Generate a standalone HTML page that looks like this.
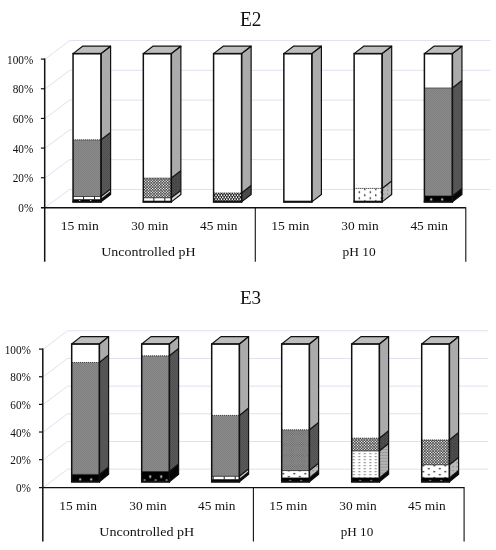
<!DOCTYPE html>
<html lang="en"><head><meta charset="utf-8"><title>E2 / E3</title>
<style>html,body{margin:0;padding:0;background:#fff}svg{display:block}text{font-family:"Liberation Serif", serif;fill:#111}</style></head><body>
<svg width="496" height="550" viewBox="0 0 496 550">

<defs>
  <!-- dense dark-gray fill (front) -->
  <pattern id="pGray" width="2" height="2" patternUnits="userSpaceOnUse">
    <rect width="2" height="2" fill="#8a8a8a"/>
    <rect width="1" height="1" fill="#808080"/>
    <rect x="1" y="1" width="1" height="1" fill="#808080"/>
  </pattern>
  <pattern id="pGrayS" width="2" height="2" patternUnits="userSpaceOnUse">
    <rect width="2" height="2" fill="#595959"/>
    <rect width="1" height="1" fill="#515151"/>
    <rect x="1" y="1" width="1" height="1" fill="#515151"/>
  </pattern>
  <!-- checker / cross-hatch -->
  <pattern id="pHatch" width="11.0" height="11.0" patternUnits="userSpaceOnUse">
    <rect width="11.0" height="11.0" fill="#4a4a4a"/>
    <circle cx="0.000" cy="0.000" r="0.68" fill="#f4f4f4"/>
    <circle cx="0.000" cy="2.750" r="0.68" fill="#f4f4f4"/>
    <circle cx="0.000" cy="5.500" r="0.68" fill="#f4f4f4"/>
    <circle cx="0.000" cy="8.250" r="0.68" fill="#f4f4f4"/>
    <circle cx="0.000" cy="11.000" r="0.68" fill="#f4f4f4"/>
    <circle cx="2.750" cy="0.000" r="0.68" fill="#f4f4f4"/>
    <circle cx="2.750" cy="2.750" r="0.68" fill="#f4f4f4"/>
    <circle cx="2.750" cy="5.500" r="0.68" fill="#f4f4f4"/>
    <circle cx="2.750" cy="8.250" r="0.68" fill="#f4f4f4"/>
    <circle cx="2.750" cy="11.000" r="0.68" fill="#f4f4f4"/>
    <circle cx="5.500" cy="0.000" r="0.68" fill="#f4f4f4"/>
    <circle cx="5.500" cy="2.750" r="0.68" fill="#f4f4f4"/>
    <circle cx="5.500" cy="5.500" r="0.68" fill="#f4f4f4"/>
    <circle cx="5.500" cy="8.250" r="0.68" fill="#f4f4f4"/>
    <circle cx="5.500" cy="11.000" r="0.68" fill="#f4f4f4"/>
    <circle cx="8.250" cy="0.000" r="0.68" fill="#f4f4f4"/>
    <circle cx="8.250" cy="2.750" r="0.68" fill="#f4f4f4"/>
    <circle cx="8.250" cy="5.500" r="0.68" fill="#f4f4f4"/>
    <circle cx="8.250" cy="8.250" r="0.68" fill="#f4f4f4"/>
    <circle cx="8.250" cy="11.000" r="0.68" fill="#f4f4f4"/>
    <circle cx="11.000" cy="0.000" r="0.68" fill="#f4f4f4"/>
    <circle cx="11.000" cy="2.750" r="0.68" fill="#f4f4f4"/>
    <circle cx="11.000" cy="5.500" r="0.68" fill="#f4f4f4"/>
    <circle cx="11.000" cy="8.250" r="0.68" fill="#f4f4f4"/>
    <circle cx="11.000" cy="11.000" r="0.68" fill="#f4f4f4"/>
    <circle cx="1.375" cy="1.375" r="0.68" fill="#f4f4f4"/>
    <circle cx="1.375" cy="4.125" r="0.68" fill="#f4f4f4"/>
    <circle cx="1.375" cy="6.875" r="0.68" fill="#f4f4f4"/>
    <circle cx="1.375" cy="9.625" r="0.68" fill="#f4f4f4"/>
    <circle cx="4.125" cy="1.375" r="0.68" fill="#f4f4f4"/>
    <circle cx="4.125" cy="4.125" r="0.68" fill="#f4f4f4"/>
    <circle cx="4.125" cy="6.875" r="0.68" fill="#f4f4f4"/>
    <circle cx="4.125" cy="9.625" r="0.68" fill="#f4f4f4"/>
    <circle cx="6.875" cy="1.375" r="0.68" fill="#f4f4f4"/>
    <circle cx="6.875" cy="4.125" r="0.68" fill="#f4f4f4"/>
    <circle cx="6.875" cy="6.875" r="0.68" fill="#f4f4f4"/>
    <circle cx="6.875" cy="9.625" r="0.68" fill="#f4f4f4"/>
    <circle cx="9.625" cy="1.375" r="0.68" fill="#f4f4f4"/>
    <circle cx="9.625" cy="4.125" r="0.68" fill="#f4f4f4"/>
    <circle cx="9.625" cy="6.875" r="0.68" fill="#f4f4f4"/>
    <circle cx="9.625" cy="9.625" r="0.68" fill="#f4f4f4"/>
  </pattern>
  <pattern id="pHatchS" width="11.0" height="11.0" patternUnits="userSpaceOnUse">
    <rect width="11.0" height="11.0" fill="#404040"/>
    <circle cx="0.000" cy="0.000" r="0.6" fill="#606060"/>
    <circle cx="0.000" cy="2.750" r="0.6" fill="#606060"/>
    <circle cx="0.000" cy="5.500" r="0.6" fill="#606060"/>
    <circle cx="0.000" cy="8.250" r="0.6" fill="#606060"/>
    <circle cx="0.000" cy="11.000" r="0.6" fill="#606060"/>
    <circle cx="2.750" cy="0.000" r="0.6" fill="#606060"/>
    <circle cx="2.750" cy="2.750" r="0.6" fill="#606060"/>
    <circle cx="2.750" cy="5.500" r="0.6" fill="#606060"/>
    <circle cx="2.750" cy="8.250" r="0.6" fill="#606060"/>
    <circle cx="2.750" cy="11.000" r="0.6" fill="#606060"/>
    <circle cx="5.500" cy="0.000" r="0.6" fill="#606060"/>
    <circle cx="5.500" cy="2.750" r="0.6" fill="#606060"/>
    <circle cx="5.500" cy="5.500" r="0.6" fill="#606060"/>
    <circle cx="5.500" cy="8.250" r="0.6" fill="#606060"/>
    <circle cx="5.500" cy="11.000" r="0.6" fill="#606060"/>
    <circle cx="8.250" cy="0.000" r="0.6" fill="#606060"/>
    <circle cx="8.250" cy="2.750" r="0.6" fill="#606060"/>
    <circle cx="8.250" cy="5.500" r="0.6" fill="#606060"/>
    <circle cx="8.250" cy="8.250" r="0.6" fill="#606060"/>
    <circle cx="8.250" cy="11.000" r="0.6" fill="#606060"/>
    <circle cx="11.000" cy="0.000" r="0.6" fill="#606060"/>
    <circle cx="11.000" cy="2.750" r="0.6" fill="#606060"/>
    <circle cx="11.000" cy="5.500" r="0.6" fill="#606060"/>
    <circle cx="11.000" cy="8.250" r="0.6" fill="#606060"/>
    <circle cx="11.000" cy="11.000" r="0.6" fill="#606060"/>
    <circle cx="1.375" cy="1.375" r="0.6" fill="#606060"/>
    <circle cx="1.375" cy="4.125" r="0.6" fill="#606060"/>
    <circle cx="1.375" cy="6.875" r="0.6" fill="#606060"/>
    <circle cx="1.375" cy="9.625" r="0.6" fill="#606060"/>
    <circle cx="4.125" cy="1.375" r="0.6" fill="#606060"/>
    <circle cx="4.125" cy="4.125" r="0.6" fill="#606060"/>
    <circle cx="4.125" cy="6.875" r="0.6" fill="#606060"/>
    <circle cx="4.125" cy="9.625" r="0.6" fill="#606060"/>
    <circle cx="6.875" cy="1.375" r="0.6" fill="#606060"/>
    <circle cx="6.875" cy="4.125" r="0.6" fill="#606060"/>
    <circle cx="6.875" cy="6.875" r="0.6" fill="#606060"/>
    <circle cx="6.875" cy="9.625" r="0.6" fill="#606060"/>
    <circle cx="9.625" cy="1.375" r="0.6" fill="#606060"/>
    <circle cx="9.625" cy="4.125" r="0.6" fill="#606060"/>
    <circle cx="9.625" cy="6.875" r="0.6" fill="#606060"/>
    <circle cx="9.625" cy="9.625" r="0.6" fill="#606060"/>
  </pattern>
  <!-- textured gray -->
  <pattern id="pGray2" width="11.000" height="11.000" patternUnits="userSpaceOnUse">
    <rect width="11.000" height="11.000" fill="#929292"/>
    <circle cx="0.000" cy="0.000" r="0.55" fill="#626262"/>
    <circle cx="0.000" cy="2.200" r="0.55" fill="#626262"/>
    <circle cx="0.000" cy="4.400" r="0.55" fill="#626262"/>
    <circle cx="0.000" cy="6.600" r="0.55" fill="#626262"/>
    <circle cx="0.000" cy="8.800" r="0.55" fill="#626262"/>
    <circle cx="0.000" cy="11.000" r="0.55" fill="#626262"/>
    <circle cx="2.200" cy="0.000" r="0.55" fill="#626262"/>
    <circle cx="2.200" cy="2.200" r="0.55" fill="#626262"/>
    <circle cx="2.200" cy="4.400" r="0.55" fill="#626262"/>
    <circle cx="2.200" cy="6.600" r="0.55" fill="#626262"/>
    <circle cx="2.200" cy="8.800" r="0.55" fill="#626262"/>
    <circle cx="2.200" cy="11.000" r="0.55" fill="#626262"/>
    <circle cx="4.400" cy="0.000" r="0.55" fill="#626262"/>
    <circle cx="4.400" cy="2.200" r="0.55" fill="#626262"/>
    <circle cx="4.400" cy="4.400" r="0.55" fill="#626262"/>
    <circle cx="4.400" cy="6.600" r="0.55" fill="#626262"/>
    <circle cx="4.400" cy="8.800" r="0.55" fill="#626262"/>
    <circle cx="4.400" cy="11.000" r="0.55" fill="#626262"/>
    <circle cx="6.600" cy="0.000" r="0.55" fill="#626262"/>
    <circle cx="6.600" cy="2.200" r="0.55" fill="#626262"/>
    <circle cx="6.600" cy="4.400" r="0.55" fill="#626262"/>
    <circle cx="6.600" cy="6.600" r="0.55" fill="#626262"/>
    <circle cx="6.600" cy="8.800" r="0.55" fill="#626262"/>
    <circle cx="6.600" cy="11.000" r="0.55" fill="#626262"/>
    <circle cx="8.800" cy="0.000" r="0.55" fill="#626262"/>
    <circle cx="8.800" cy="2.200" r="0.55" fill="#626262"/>
    <circle cx="8.800" cy="4.400" r="0.55" fill="#626262"/>
    <circle cx="8.800" cy="6.600" r="0.55" fill="#626262"/>
    <circle cx="8.800" cy="8.800" r="0.55" fill="#626262"/>
    <circle cx="8.800" cy="11.000" r="0.55" fill="#626262"/>
    <circle cx="11.000" cy="0.000" r="0.55" fill="#626262"/>
    <circle cx="11.000" cy="2.200" r="0.55" fill="#626262"/>
    <circle cx="11.000" cy="4.400" r="0.55" fill="#626262"/>
    <circle cx="11.000" cy="6.600" r="0.55" fill="#626262"/>
    <circle cx="11.000" cy="8.800" r="0.55" fill="#626262"/>
    <circle cx="11.000" cy="11.000" r="0.55" fill="#626262"/>
    <circle cx="1.100" cy="1.100" r="0.55" fill="#626262"/>
    <circle cx="1.100" cy="3.300" r="0.55" fill="#626262"/>
    <circle cx="1.100" cy="5.500" r="0.55" fill="#626262"/>
    <circle cx="1.100" cy="7.700" r="0.55" fill="#626262"/>
    <circle cx="1.100" cy="9.900" r="0.55" fill="#626262"/>
    <circle cx="3.300" cy="1.100" r="0.55" fill="#626262"/>
    <circle cx="3.300" cy="3.300" r="0.55" fill="#626262"/>
    <circle cx="3.300" cy="5.500" r="0.55" fill="#626262"/>
    <circle cx="3.300" cy="7.700" r="0.55" fill="#626262"/>
    <circle cx="3.300" cy="9.900" r="0.55" fill="#626262"/>
    <circle cx="5.500" cy="1.100" r="0.55" fill="#626262"/>
    <circle cx="5.500" cy="3.300" r="0.55" fill="#626262"/>
    <circle cx="5.500" cy="5.500" r="0.55" fill="#626262"/>
    <circle cx="5.500" cy="7.700" r="0.55" fill="#626262"/>
    <circle cx="5.500" cy="9.900" r="0.55" fill="#626262"/>
    <circle cx="7.700" cy="1.100" r="0.55" fill="#626262"/>
    <circle cx="7.700" cy="3.300" r="0.55" fill="#626262"/>
    <circle cx="7.700" cy="5.500" r="0.55" fill="#626262"/>
    <circle cx="7.700" cy="7.700" r="0.55" fill="#626262"/>
    <circle cx="7.700" cy="9.900" r="0.55" fill="#626262"/>
    <circle cx="9.900" cy="1.100" r="0.55" fill="#626262"/>
    <circle cx="9.900" cy="3.300" r="0.55" fill="#626262"/>
    <circle cx="9.900" cy="5.500" r="0.55" fill="#626262"/>
    <circle cx="9.900" cy="7.700" r="0.55" fill="#626262"/>
    <circle cx="9.900" cy="9.900" r="0.55" fill="#626262"/>
  </pattern>
  <!-- larger diamond lattice -->
  <pattern id="pHatch2" width="10.800" height="8.200" patternUnits="userSpaceOnUse">
    <rect width="10.800" height="8.200" fill="#0c0c0c"/>
    <ellipse cx="0.000" cy="0.000" rx="0.86" ry="1.2" fill="#ffffff"/>
    <ellipse cx="0.000" cy="4.100" rx="0.86" ry="1.2" fill="#ffffff"/>
    <ellipse cx="0.000" cy="8.200" rx="0.86" ry="1.2" fill="#ffffff"/>
    <ellipse cx="2.700" cy="0.000" rx="0.86" ry="1.2" fill="#ffffff"/>
    <ellipse cx="2.700" cy="4.100" rx="0.86" ry="1.2" fill="#ffffff"/>
    <ellipse cx="2.700" cy="8.200" rx="0.86" ry="1.2" fill="#ffffff"/>
    <ellipse cx="5.400" cy="0.000" rx="0.86" ry="1.2" fill="#ffffff"/>
    <ellipse cx="5.400" cy="4.100" rx="0.86" ry="1.2" fill="#ffffff"/>
    <ellipse cx="5.400" cy="8.200" rx="0.86" ry="1.2" fill="#ffffff"/>
    <ellipse cx="8.100" cy="0.000" rx="0.86" ry="1.2" fill="#ffffff"/>
    <ellipse cx="8.100" cy="4.100" rx="0.86" ry="1.2" fill="#ffffff"/>
    <ellipse cx="8.100" cy="8.200" rx="0.86" ry="1.2" fill="#ffffff"/>
    <ellipse cx="10.800" cy="0.000" rx="0.86" ry="1.2" fill="#ffffff"/>
    <ellipse cx="10.800" cy="4.100" rx="0.86" ry="1.2" fill="#ffffff"/>
    <ellipse cx="10.800" cy="8.200" rx="0.86" ry="1.2" fill="#ffffff"/>
    <ellipse cx="1.350" cy="2.050" rx="0.86" ry="1.2" fill="#ffffff"/>
    <ellipse cx="1.350" cy="6.150" rx="0.86" ry="1.2" fill="#ffffff"/>
    <ellipse cx="4.050" cy="2.050" rx="0.86" ry="1.2" fill="#ffffff"/>
    <ellipse cx="4.050" cy="6.150" rx="0.86" ry="1.2" fill="#ffffff"/>
    <ellipse cx="6.750" cy="2.050" rx="0.86" ry="1.2" fill="#ffffff"/>
    <ellipse cx="6.750" cy="6.150" rx="0.86" ry="1.2" fill="#ffffff"/>
    <ellipse cx="9.450" cy="2.050" rx="0.86" ry="1.2" fill="#ffffff"/>
    <ellipse cx="9.450" cy="6.150" rx="0.86" ry="1.2" fill="#ffffff"/>
  </pattern>
  <!-- sparse dark dots on white : tile 11 x 6, anchored at (xl, segtop) -->
  <pattern id="pDot" width="11" height="6" patternUnits="userSpaceOnUse">
    <rect width="11" height="6" fill="#fff"/>
    <rect x="4.6" y="2.9" width="1.5" height="1.5" fill="#1c1c1c"/>
    <rect x="10.0" y="-0.1" width="1.5" height="1.5" fill="#1c1c1c"/>
    <rect x="-1.0" y="-0.1" width="1.5" height="1.5" fill="#1c1c1c"/>
    <rect x="10.0" y="5.9" width="1.5" height="1.5" fill="#1c1c1c"/>
    <rect x="-1.0" y="5.9" width="1.5" height="1.5" fill="#1c1c1c"/>
  </pattern>
  <pattern id="pDotS" width="4" height="4" patternUnits="userSpaceOnUse">
    <rect width="4" height="4" fill="#b9b9b9"/>
    <rect x="1" y="1" width="1.2" height="1.2" fill="#7a7a7a"/>
  </pattern>
  <!-- small light dashes on white -->
  <pattern id="pDash" width="11" height="3" patternUnits="userSpaceOnUse">
    <rect width="11" height="3" fill="#fff"/>
    <rect x="1.4" y="2.2" width="1.8" height="1.0" fill="#6a6a6a"/>
    <rect x="1.4" y="-0.8" width="1.8" height="1.0" fill="#6a6a6a"/>
    <rect x="6.9" y="2.2" width="1.8" height="1.0" fill="#6a6a6a"/>
    <rect x="6.9" y="-0.8" width="1.8" height="1.0" fill="#6a6a6a"/>
  </pattern>
  <pattern id="pDashS" width="3" height="2.95" patternUnits="userSpaceOnUse">
    <rect width="3" height="2.95" fill="#b4b4b4"/>
    <rect x="0.5" y="1" width="2" height="0.9" fill="#8a8a8a"/>
  </pattern>
  <!-- black with white dots : two rows only -->
  <pattern id="pBlk" width="11" height="30" patternUnits="userSpaceOnUse">
    <rect width="11" height="30" fill="#000"/>
    <rect x="5.9" y="3.9" width="1.5" height="2.5" fill="#fff"/>
    <rect x="0.4" y="7.9" width="1.5" height="2.0" fill="#fff"/>
  </pattern>
  <pattern id="pBlkS" width="3.2" height="30" patternUnits="userSpaceOnUse" patternTransform="skewY(-38.7)">
    <rect width="3.2" height="30" fill="#060606"/>
    <rect x="1.4" y="3.7" width="1.0" height="1.6" fill="#8c8c8c"/>
  </pattern>
  <!-- white with black ticks every 11 px -->
  <pattern id="pWDash" width="11" height="20" patternUnits="userSpaceOnUse">
    <rect width="11" height="20" fill="#fff"/>
    <rect x="10.0" y="-1" width="1.6" height="22" fill="#222"/>
  </pattern>
</defs>

<rect width="496" height="550" fill="#fff"/>
<polyline points="45.30,59.10 69.50,40.55 490.40,40.55" fill="none" stroke="#dde2ef" stroke-width="1"/>
<polyline points="45.30,88.76 69.50,70.33 490.40,70.33" fill="none" stroke="#dde2ef" stroke-width="1"/>
<polyline points="45.30,118.42 69.50,100.11 490.40,100.11" fill="none" stroke="#dde2ef" stroke-width="1"/>
<polyline points="45.30,148.08 69.50,129.89 490.40,129.89" fill="none" stroke="#dde2ef" stroke-width="1"/>
<polyline points="45.30,177.74 69.50,159.67 490.40,159.67" fill="none" stroke="#dde2ef" stroke-width="1"/>
<polyline points="45.30,207.40 69.50,189.45 490.40,189.45" fill="none" stroke="#dde2ef" stroke-width="1"/>
<g transform="translate(73.00,196.00)">
<rect x="0.05" y="3.50" width="28.00" height="2.40" fill="url(#pBlk)"/>
<polygon points="28.05,3.50 37.60,-3.90 37.60,-1.50 28.05,5.90" fill="url(#pBlkS)"/>
</g>
<g transform="translate(73.05,196.50)">
<rect x="0.00" y="0.00" width="28.00" height="3.00" fill="url(#pWDash)"/>
<polygon points="28.00,0.00 37.55,-7.40 37.55,-4.40 28.00,3.00" fill="#d8d8d8"/>
</g>
<g transform="translate(0.00,0.00)">
<rect x="73.05" y="139.80" width="28.00" height="56.70" fill="url(#pGray)"/>
<polygon points="101.05,139.80 110.60,132.40 110.60,189.10 101.05,196.50" fill="url(#pGrayS)"/>
</g>
<g transform="translate(0.00,0.00)">
<rect x="73.05" y="53.60" width="28.00" height="86.20" fill="#ffffff"/>
<polygon points="101.05,53.60 110.60,46.20 110.60,132.40 101.05,139.80" fill="#ababab"/>
</g>
<line x1="73.05" y1="199.50" x2="101.05" y2="199.50" stroke="#111" stroke-width="0.7"/>
<line x1="101.05" y1="199.50" x2="110.60" y2="192.10" stroke="#111" stroke-width="1.25"/>
<line x1="73.05" y1="196.50" x2="101.05" y2="196.50" stroke="#111" stroke-width="0.7"/>
<line x1="101.05" y1="196.50" x2="110.60" y2="189.10" stroke="#111" stroke-width="1.25"/>
<line x1="73.05" y1="139.80" x2="101.05" y2="139.80" stroke="#111" stroke-width="0.8" stroke-dasharray="1.3 0.7"/>
<line x1="101.05" y1="139.80" x2="110.60" y2="132.40" stroke="#111" stroke-width="1.25"/>
<polygon points="73.05,53.60 82.60,46.20 110.60,46.20 101.05,53.60" fill="#bdbdbd" stroke="#111" stroke-width="1.2" stroke-linejoin="round"/>
<rect x="73.05" y="53.60" width="28.00" height="148.30" fill="none" stroke="#111" stroke-width="1.5"/>
<line x1="72.40" y1="201.65" x2="101.70" y2="201.65" stroke="#111" stroke-width="1.9"/>
<polygon points="101.05,53.60 110.60,46.20 110.60,194.50 101.05,201.90" fill="none" stroke="#111" stroke-width="1.2" stroke-linejoin="round"/>
<g transform="translate(143.32,197.80)">
<rect x="0.00" y="0.00" width="28.00" height="4.10" fill="url(#pWDash)"/>
<polygon points="28.00,0.00 37.55,-7.40 37.55,-3.30 28.00,4.10" fill="#d8d8d8"/>
</g>
<g transform="translate(0.00,0.00)">
<rect x="143.32" y="178.10" width="28.00" height="19.70" fill="url(#pHatch)"/>
<polygon points="171.32,178.10 180.87,170.70 180.87,190.40 171.32,197.80" fill="url(#pHatchS)"/>
</g>
<g transform="translate(0.00,0.00)">
<rect x="143.32" y="53.60" width="28.00" height="124.50" fill="#ffffff"/>
<polygon points="171.32,53.60 180.87,46.20 180.87,170.70 171.32,178.10" fill="#ababab"/>
</g>
<line x1="143.32" y1="197.80" x2="171.32" y2="197.80" stroke="#111" stroke-width="0.7"/>
<line x1="171.32" y1="197.80" x2="180.87" y2="190.40" stroke="#111" stroke-width="1.25"/>
<line x1="143.32" y1="178.10" x2="171.32" y2="178.10" stroke="#111" stroke-width="0.8" stroke-dasharray="1.3 0.7"/>
<line x1="171.32" y1="178.10" x2="180.87" y2="170.70" stroke="#111" stroke-width="1.25"/>
<polygon points="143.32,53.60 152.87,46.20 180.87,46.20 171.32,53.60" fill="#bdbdbd" stroke="#111" stroke-width="1.2" stroke-linejoin="round"/>
<rect x="143.32" y="53.60" width="28.00" height="148.30" fill="none" stroke="#111" stroke-width="1.5"/>
<line x1="142.67" y1="201.65" x2="171.97" y2="201.65" stroke="#111" stroke-width="1.9"/>
<polygon points="171.32,53.60 180.87,46.20 180.87,194.50 171.32,201.90" fill="none" stroke="#111" stroke-width="1.2" stroke-linejoin="round"/>
<g transform="translate(214.69,193.20)">
<clipPath id="c1"><rect x="-1.10" y="-0.20" width="28.00" height="8.90"/></clipPath>
<rect x="-1.10" y="-0.20" width="28.00" height="8.90" fill="#161616"/>
<g clip-path="url(#c1)" fill="#fff">
<ellipse cx="-1.35" cy="-2.05" rx="0.76" ry="1.1"/>
<ellipse cx="1.35" cy="-2.05" rx="0.76" ry="1.1"/>
<ellipse cx="4.05" cy="-2.05" rx="0.76" ry="1.1"/>
<ellipse cx="6.75" cy="-2.05" rx="0.76" ry="1.1"/>
<ellipse cx="9.45" cy="-2.05" rx="0.76" ry="1.1"/>
<ellipse cx="12.15" cy="-2.05" rx="0.76" ry="1.1"/>
<ellipse cx="14.85" cy="-2.05" rx="0.76" ry="1.1"/>
<ellipse cx="17.55" cy="-2.05" rx="0.76" ry="1.1"/>
<ellipse cx="20.25" cy="-2.05" rx="0.76" ry="1.1"/>
<ellipse cx="22.95" cy="-2.05" rx="0.76" ry="1.1"/>
<ellipse cx="25.65" cy="-2.05" rx="0.76" ry="1.1"/>
<ellipse cx="28.35" cy="-2.05" rx="0.76" ry="1.1"/>
<ellipse cx="31.05" cy="-2.05" rx="0.76" ry="1.1"/>
<ellipse cx="-2.70" cy="0.00" rx="0.76" ry="1.1"/>
<ellipse cx="0.00" cy="0.00" rx="0.76" ry="1.1"/>
<ellipse cx="2.70" cy="0.00" rx="0.76" ry="1.1"/>
<ellipse cx="5.40" cy="0.00" rx="0.76" ry="1.1"/>
<ellipse cx="8.10" cy="0.00" rx="0.76" ry="1.1"/>
<ellipse cx="10.80" cy="0.00" rx="0.76" ry="1.1"/>
<ellipse cx="13.50" cy="0.00" rx="0.76" ry="1.1"/>
<ellipse cx="16.20" cy="0.00" rx="0.76" ry="1.1"/>
<ellipse cx="18.90" cy="0.00" rx="0.76" ry="1.1"/>
<ellipse cx="21.60" cy="0.00" rx="0.76" ry="1.1"/>
<ellipse cx="24.30" cy="0.00" rx="0.76" ry="1.1"/>
<ellipse cx="27.00" cy="0.00" rx="0.76" ry="1.1"/>
<ellipse cx="29.70" cy="0.00" rx="0.76" ry="1.1"/>
<ellipse cx="-1.35" cy="2.05" rx="0.76" ry="1.1"/>
<ellipse cx="1.35" cy="2.05" rx="0.76" ry="1.1"/>
<ellipse cx="4.05" cy="2.05" rx="0.76" ry="1.1"/>
<ellipse cx="6.75" cy="2.05" rx="0.76" ry="1.1"/>
<ellipse cx="9.45" cy="2.05" rx="0.76" ry="1.1"/>
<ellipse cx="12.15" cy="2.05" rx="0.76" ry="1.1"/>
<ellipse cx="14.85" cy="2.05" rx="0.76" ry="1.1"/>
<ellipse cx="17.55" cy="2.05" rx="0.76" ry="1.1"/>
<ellipse cx="20.25" cy="2.05" rx="0.76" ry="1.1"/>
<ellipse cx="22.95" cy="2.05" rx="0.76" ry="1.1"/>
<ellipse cx="25.65" cy="2.05" rx="0.76" ry="1.1"/>
<ellipse cx="28.35" cy="2.05" rx="0.76" ry="1.1"/>
<ellipse cx="31.05" cy="2.05" rx="0.76" ry="1.1"/>
<ellipse cx="-2.70" cy="4.10" rx="0.76" ry="1.1"/>
<ellipse cx="0.00" cy="4.10" rx="0.76" ry="1.1"/>
<ellipse cx="2.70" cy="4.10" rx="0.76" ry="1.1"/>
<ellipse cx="5.40" cy="4.10" rx="0.76" ry="1.1"/>
<ellipse cx="8.10" cy="4.10" rx="0.76" ry="1.1"/>
<ellipse cx="10.80" cy="4.10" rx="0.76" ry="1.1"/>
<ellipse cx="13.50" cy="4.10" rx="0.76" ry="1.1"/>
<ellipse cx="16.20" cy="4.10" rx="0.76" ry="1.1"/>
<ellipse cx="18.90" cy="4.10" rx="0.76" ry="1.1"/>
<ellipse cx="21.60" cy="4.10" rx="0.76" ry="1.1"/>
<ellipse cx="24.30" cy="4.10" rx="0.76" ry="1.1"/>
<ellipse cx="27.00" cy="4.10" rx="0.76" ry="1.1"/>
<ellipse cx="29.70" cy="4.10" rx="0.76" ry="1.1"/>
<ellipse cx="-1.35" cy="6.15" rx="0.76" ry="1.1"/>
<ellipse cx="1.35" cy="6.15" rx="0.76" ry="1.1"/>
<ellipse cx="4.05" cy="6.15" rx="0.76" ry="1.1"/>
<ellipse cx="6.75" cy="6.15" rx="0.76" ry="1.1"/>
<ellipse cx="9.45" cy="6.15" rx="0.76" ry="1.1"/>
<ellipse cx="12.15" cy="6.15" rx="0.76" ry="1.1"/>
<ellipse cx="14.85" cy="6.15" rx="0.76" ry="1.1"/>
<ellipse cx="17.55" cy="6.15" rx="0.76" ry="1.1"/>
<ellipse cx="20.25" cy="6.15" rx="0.76" ry="1.1"/>
<ellipse cx="22.95" cy="6.15" rx="0.76" ry="1.1"/>
<ellipse cx="25.65" cy="6.15" rx="0.76" ry="1.1"/>
<ellipse cx="28.35" cy="6.15" rx="0.76" ry="1.1"/>
<ellipse cx="31.05" cy="6.15" rx="0.76" ry="1.1"/>
<ellipse cx="-2.70" cy="8.20" rx="0.76" ry="1.1"/>
<ellipse cx="0.00" cy="8.20" rx="0.76" ry="1.1"/>
<ellipse cx="2.70" cy="8.20" rx="0.76" ry="1.1"/>
<ellipse cx="5.40" cy="8.20" rx="0.76" ry="1.1"/>
<ellipse cx="8.10" cy="8.20" rx="0.76" ry="1.1"/>
<ellipse cx="10.80" cy="8.20" rx="0.76" ry="1.1"/>
<ellipse cx="13.50" cy="8.20" rx="0.76" ry="1.1"/>
<ellipse cx="16.20" cy="8.20" rx="0.76" ry="1.1"/>
<ellipse cx="18.90" cy="8.20" rx="0.76" ry="1.1"/>
<ellipse cx="21.60" cy="8.20" rx="0.76" ry="1.1"/>
<ellipse cx="24.30" cy="8.20" rx="0.76" ry="1.1"/>
<ellipse cx="27.00" cy="8.20" rx="0.76" ry="1.1"/>
<ellipse cx="29.70" cy="8.20" rx="0.76" ry="1.1"/>
<ellipse cx="-1.35" cy="10.25" rx="0.76" ry="1.1"/>
<ellipse cx="1.35" cy="10.25" rx="0.76" ry="1.1"/>
<ellipse cx="4.05" cy="10.25" rx="0.76" ry="1.1"/>
<ellipse cx="6.75" cy="10.25" rx="0.76" ry="1.1"/>
<ellipse cx="9.45" cy="10.25" rx="0.76" ry="1.1"/>
<ellipse cx="12.15" cy="10.25" rx="0.76" ry="1.1"/>
<ellipse cx="14.85" cy="10.25" rx="0.76" ry="1.1"/>
<ellipse cx="17.55" cy="10.25" rx="0.76" ry="1.1"/>
<ellipse cx="20.25" cy="10.25" rx="0.76" ry="1.1"/>
<ellipse cx="22.95" cy="10.25" rx="0.76" ry="1.1"/>
<ellipse cx="25.65" cy="10.25" rx="0.76" ry="1.1"/>
<ellipse cx="28.35" cy="10.25" rx="0.76" ry="1.1"/>
<ellipse cx="31.05" cy="10.25" rx="0.76" ry="1.1"/>
</g>
<polygon points="26.90,-0.20 36.45,-7.60 36.45,1.30 26.90,8.70" fill="url(#pHatchS)"/>
</g>
<g transform="translate(0.00,0.00)">
<rect x="213.59" y="53.60" width="28.00" height="139.40" fill="#ffffff"/>
<polygon points="241.59,53.60 251.14,46.20 251.14,185.60 241.59,193.00" fill="#ababab"/>
</g>
<line x1="213.59" y1="193.00" x2="241.59" y2="193.00" stroke="#111" stroke-width="0.8" stroke-dasharray="1.3 0.7"/>
<line x1="241.59" y1="193.00" x2="251.14" y2="185.60" stroke="#111" stroke-width="1.25"/>
<polygon points="213.59,53.60 223.14,46.20 251.14,46.20 241.59,53.60" fill="#bdbdbd" stroke="#111" stroke-width="1.2" stroke-linejoin="round"/>
<rect x="213.59" y="53.60" width="28.00" height="148.30" fill="none" stroke="#111" stroke-width="1.5"/>
<line x1="212.94" y1="201.65" x2="242.24" y2="201.65" stroke="#111" stroke-width="1.9"/>
<polygon points="241.59,53.60 251.14,46.20 251.14,194.50 241.59,201.90" fill="none" stroke="#111" stroke-width="1.2" stroke-linejoin="round"/>
<g transform="translate(0.00,0.00)">
<rect x="283.86" y="53.60" width="28.00" height="148.30" fill="#ffffff"/>
<polygon points="311.86,53.60 321.41,46.20 321.41,194.50 311.86,201.90" fill="#ababab"/>
</g>
<polygon points="283.86,53.60 293.41,46.20 321.41,46.20 311.86,53.60" fill="#bdbdbd" stroke="#111" stroke-width="1.2" stroke-linejoin="round"/>
<rect x="283.86" y="53.60" width="28.00" height="148.30" fill="none" stroke="#111" stroke-width="1.5"/>
<line x1="283.21" y1="201.65" x2="312.51" y2="201.65" stroke="#111" stroke-width="1.9"/>
<polygon points="311.86,53.60 321.41,46.20 321.41,194.50 311.86,201.90" fill="none" stroke="#111" stroke-width="1.2" stroke-linejoin="round"/>
<g transform="translate(354.00,188.50)">
<rect x="0.13" y="-0.10" width="28.00" height="13.50" fill="url(#pDot)"/>
<polygon points="28.13,-0.10 37.68,-7.50 37.68,6.00 28.13,13.40" fill="url(#pDotS)"/>
</g>
<g transform="translate(0.00,0.00)">
<rect x="354.13" y="53.60" width="28.00" height="134.80" fill="#ffffff"/>
<polygon points="382.13,53.60 391.68,46.20 391.68,181.00 382.13,188.40" fill="#ababab"/>
</g>
<line x1="354.13" y1="188.40" x2="382.13" y2="188.40" stroke="#111" stroke-width="0.8" stroke-dasharray="1.3 0.7"/>
<line x1="382.13" y1="188.40" x2="391.68" y2="181.00" stroke="#111" stroke-width="1.25"/>
<polygon points="354.13,53.60 363.68,46.20 391.68,46.20 382.13,53.60" fill="#bdbdbd" stroke="#111" stroke-width="1.2" stroke-linejoin="round"/>
<rect x="354.13" y="53.60" width="28.00" height="148.30" fill="none" stroke="#111" stroke-width="1.5"/>
<line x1="353.48" y1="201.65" x2="382.78" y2="201.65" stroke="#111" stroke-width="1.9"/>
<polygon points="382.13,53.60 391.68,46.20 391.68,194.50 382.13,201.90" fill="none" stroke="#111" stroke-width="1.2" stroke-linejoin="round"/>
<g transform="translate(424.50,194.50)">
<rect x="-0.10" y="1.50" width="28.00" height="5.90" fill="url(#pBlk)"/>
<polygon points="27.90,1.50 37.45,-5.90 37.45,0.00 27.90,7.40" fill="url(#pBlkS)"/>
</g>
<g transform="translate(0.00,0.00)">
<rect x="424.40" y="87.90" width="28.00" height="108.10" fill="url(#pGray)"/>
<polygon points="452.40,87.90 461.95,80.50 461.95,188.60 452.40,196.00" fill="url(#pGrayS)"/>
</g>
<g transform="translate(0.00,0.00)">
<rect x="424.40" y="53.60" width="28.00" height="34.30" fill="#ffffff"/>
<polygon points="452.40,53.60 461.95,46.20 461.95,80.50 452.40,87.90" fill="#ababab"/>
</g>
<line x1="424.40" y1="196.00" x2="452.40" y2="196.00" stroke="#111" stroke-width="0.7"/>
<line x1="452.40" y1="196.00" x2="461.95" y2="188.60" stroke="#111" stroke-width="1.25"/>
<line x1="424.40" y1="87.90" x2="452.40" y2="87.90" stroke="#111" stroke-width="0.8" stroke-dasharray="1.3 0.7"/>
<line x1="452.40" y1="87.90" x2="461.95" y2="80.50" stroke="#111" stroke-width="1.25"/>
<polygon points="424.40,53.60 433.95,46.20 461.95,46.20 452.40,53.60" fill="#bdbdbd" stroke="#111" stroke-width="1.2" stroke-linejoin="round"/>
<rect x="424.40" y="53.60" width="28.00" height="148.30" fill="none" stroke="#111" stroke-width="1.5"/>
<line x1="423.75" y1="201.65" x2="453.05" y2="201.65" stroke="#111" stroke-width="1.9"/>
<polygon points="452.40,53.60 461.95,46.20 461.95,194.50 452.40,201.90" fill="none" stroke="#111" stroke-width="1.2" stroke-linejoin="round"/>
<line x1="44.70" y1="58.50" x2="44.70" y2="261.70" stroke="#111" stroke-width="1.5"/>
<line x1="40.90" y1="59.10" x2="44.70" y2="59.10" stroke="#111" stroke-width="1.2"/>
<line x1="40.90" y1="88.76" x2="44.70" y2="88.76" stroke="#111" stroke-width="1.2"/>
<line x1="40.90" y1="118.42" x2="44.70" y2="118.42" stroke="#111" stroke-width="1.2"/>
<line x1="40.90" y1="148.08" x2="44.70" y2="148.08" stroke="#111" stroke-width="1.2"/>
<line x1="40.90" y1="177.74" x2="44.70" y2="177.74" stroke="#111" stroke-width="1.2"/>
<line x1="40.90" y1="207.75" x2="465.80" y2="207.75" stroke="#111" stroke-width="1.3"/>
<line x1="255.30" y1="207.75" x2="255.30" y2="261.70" stroke="#111" stroke-width="1.1"/>
<line x1="465.80" y1="207.15" x2="465.80" y2="261.70" stroke="#111" stroke-width="1.1"/>
<text x="7.04" y="63.70" font-size="11.7" textLength="26.26" lengthAdjust="spacingAndGlyphs">100%</text>
<text x="12.67" y="93.36" font-size="11.7" textLength="20.63" lengthAdjust="spacingAndGlyphs">80%</text>
<text x="12.67" y="123.02" font-size="11.7" textLength="20.63" lengthAdjust="spacingAndGlyphs">60%</text>
<text x="12.67" y="152.68" font-size="11.7" textLength="20.63" lengthAdjust="spacingAndGlyphs">40%</text>
<text x="12.67" y="182.34" font-size="11.7" textLength="20.63" lengthAdjust="spacingAndGlyphs">20%</text>
<text x="18.30" y="212.00" font-size="11.7" textLength="15.00" lengthAdjust="spacingAndGlyphs">0%</text>
<text x="60.70" y="229.60" font-size="13.2" textLength="38.20" lengthAdjust="spacingAndGlyphs">15 min</text>
<text x="131.25" y="229.60" font-size="13.2" textLength="37.00" lengthAdjust="spacingAndGlyphs">30 min</text>
<text x="200.00" y="229.60" font-size="13.2" textLength="37.50" lengthAdjust="spacingAndGlyphs">45 min</text>
<text x="271.20" y="229.60" font-size="13.2" textLength="38.20" lengthAdjust="spacingAndGlyphs">15 min</text>
<text x="341.25" y="229.60" font-size="13.2" textLength="37.50" lengthAdjust="spacingAndGlyphs">30 min</text>
<text x="410.40" y="229.60" font-size="13.2" textLength="37.60" lengthAdjust="spacingAndGlyphs">45 min</text>
<text x="101.25" y="256.35" font-size="13.2" textLength="94.25" lengthAdjust="spacingAndGlyphs">Uncontrolled pH</text>
<text x="342.50" y="256.35" font-size="13.2" textLength="33.25" lengthAdjust="spacingAndGlyphs">pH 10</text>
<text x="240.00" y="25.60" font-size="20.0" textLength="21.5" lengthAdjust="spacingAndGlyphs">E2</text>
<polyline points="43.40,349.10 67.50,330.75 488.00,330.75" fill="none" stroke="#dde2ef" stroke-width="1"/>
<polyline points="43.40,376.74 67.50,358.43 488.00,358.43" fill="none" stroke="#dde2ef" stroke-width="1"/>
<polyline points="43.40,404.38 67.50,386.11 488.00,386.11" fill="none" stroke="#dde2ef" stroke-width="1"/>
<polyline points="43.40,432.02 67.50,413.79 488.00,413.79" fill="none" stroke="#dde2ef" stroke-width="1"/>
<polyline points="43.40,459.66 67.50,441.47 488.00,441.47" fill="none" stroke="#dde2ef" stroke-width="1"/>
<polyline points="43.40,487.30 67.50,469.15 488.00,469.15" fill="none" stroke="#dde2ef" stroke-width="1"/>
<g transform="translate(73.50,474.50)">
<rect x="-1.80" y="-0.10" width="27.70" height="7.40" fill="url(#pBlk)"/>
<polygon points="25.90,-0.10 35.10,-7.50 35.10,-0.10 25.90,7.30" fill="url(#pBlkS)"/>
</g>
<g transform="translate(0.00,0.00)">
<rect x="71.70" y="362.50" width="27.70" height="111.90" fill="url(#pGray)"/>
<polygon points="99.40,362.50 108.60,355.10 108.60,467.00 99.40,474.40" fill="url(#pGrayS)"/>
</g>
<g transform="translate(0.00,0.00)">
<rect x="71.70" y="344.00" width="27.70" height="18.50" fill="#ffffff"/>
<polygon points="99.40,344.00 108.60,336.60 108.60,355.10 99.40,362.50" fill="#ababab"/>
</g>
<line x1="71.70" y1="474.40" x2="99.40" y2="474.40" stroke="#111" stroke-width="0.7"/>
<line x1="99.40" y1="474.40" x2="108.60" y2="467.00" stroke="#111" stroke-width="1.25"/>
<line x1="71.70" y1="362.50" x2="99.40" y2="362.50" stroke="#111" stroke-width="0.8" stroke-dasharray="1.3 0.7"/>
<line x1="99.40" y1="362.50" x2="108.60" y2="355.10" stroke="#111" stroke-width="1.25"/>
<polygon points="71.70,344.00 80.90,336.60 108.60,336.60 99.40,344.00" fill="#bdbdbd" stroke="#111" stroke-width="1.2" stroke-linejoin="round"/>
<rect x="71.70" y="344.00" width="27.70" height="137.80" fill="none" stroke="#111" stroke-width="1.5"/>
<line x1="71.05" y1="481.55" x2="100.05" y2="481.55" stroke="#111" stroke-width="1.9"/>
<polygon points="99.40,344.00 108.60,336.60 108.60,474.40 99.40,481.80" fill="none" stroke="#111" stroke-width="1.2" stroke-linejoin="round"/>
<g transform="translate(143.50,471.50)">
<rect x="-1.80" y="0.00" width="27.70" height="10.30" fill="url(#pBlk)"/>
<polygon points="25.90,0.00 35.10,-7.40 35.10,2.90 25.90,10.30" fill="url(#pBlkS)"/>
</g>
<g transform="translate(0.00,0.00)">
<rect x="141.70" y="355.80" width="27.70" height="115.70" fill="url(#pGray)"/>
<polygon points="169.40,355.80 178.60,348.40 178.60,464.10 169.40,471.50" fill="url(#pGrayS)"/>
</g>
<g transform="translate(0.00,0.00)">
<rect x="141.70" y="344.00" width="27.70" height="11.80" fill="#ffffff"/>
<polygon points="169.40,344.00 178.60,336.60 178.60,348.40 169.40,355.80" fill="#ababab"/>
</g>
<line x1="141.70" y1="471.50" x2="169.40" y2="471.50" stroke="#111" stroke-width="0.7"/>
<line x1="169.40" y1="471.50" x2="178.60" y2="464.10" stroke="#111" stroke-width="1.25"/>
<line x1="141.70" y1="355.80" x2="169.40" y2="355.80" stroke="#111" stroke-width="0.8" stroke-dasharray="1.3 0.7"/>
<line x1="169.40" y1="355.80" x2="178.60" y2="348.40" stroke="#111" stroke-width="1.25"/>
<polygon points="141.70,344.00 150.90,336.60 178.60,336.60 169.40,344.00" fill="#bdbdbd" stroke="#111" stroke-width="1.2" stroke-linejoin="round"/>
<rect x="141.70" y="344.00" width="27.70" height="137.80" fill="none" stroke="#111" stroke-width="1.5"/>
<line x1="141.05" y1="481.55" x2="170.05" y2="481.55" stroke="#111" stroke-width="1.9"/>
<polygon points="169.40,344.00 178.60,336.60 178.60,474.40 169.40,481.80" fill="none" stroke="#111" stroke-width="1.2" stroke-linejoin="round"/>
<g transform="translate(0.00,0.00)">
<rect x="211.70" y="479.50" width="27.70" height="2.30" fill="#000"/>
<polygon points="239.40,479.50 248.60,472.10 248.60,474.40 239.40,481.80" fill="#0a0a0a"/>
</g>
<g transform="translate(213.70,476.30)">
<rect x="-2.00" y="0.00" width="27.70" height="3.20" fill="url(#pWDash)"/>
<polygon points="25.70,0.00 34.90,-7.40 34.90,-4.20 25.70,3.20" fill="#d8d8d8"/>
</g>
<g transform="translate(0.00,0.00)">
<rect x="211.70" y="415.40" width="27.70" height="60.90" fill="url(#pGray)"/>
<polygon points="239.40,415.40 248.60,408.00 248.60,468.90 239.40,476.30" fill="url(#pGrayS)"/>
</g>
<g transform="translate(0.00,0.00)">
<rect x="211.70" y="344.00" width="27.70" height="71.40" fill="#ffffff"/>
<polygon points="239.40,344.00 248.60,336.60 248.60,408.00 239.40,415.40" fill="#ababab"/>
</g>
<line x1="211.70" y1="479.50" x2="239.40" y2="479.50" stroke="#111" stroke-width="0.7"/>
<line x1="239.40" y1="479.50" x2="248.60" y2="472.10" stroke="#111" stroke-width="1.25"/>
<line x1="211.70" y1="476.30" x2="239.40" y2="476.30" stroke="#111" stroke-width="0.7"/>
<line x1="239.40" y1="476.30" x2="248.60" y2="468.90" stroke="#111" stroke-width="1.25"/>
<line x1="211.70" y1="415.40" x2="239.40" y2="415.40" stroke="#111" stroke-width="0.8" stroke-dasharray="1.3 0.7"/>
<line x1="239.40" y1="415.40" x2="248.60" y2="408.00" stroke="#111" stroke-width="1.25"/>
<polygon points="211.70,344.00 220.90,336.60 248.60,336.60 239.40,344.00" fill="#bdbdbd" stroke="#111" stroke-width="1.2" stroke-linejoin="round"/>
<rect x="211.70" y="344.00" width="27.70" height="137.80" fill="none" stroke="#111" stroke-width="1.5"/>
<line x1="211.05" y1="481.55" x2="240.05" y2="481.55" stroke="#111" stroke-width="1.9"/>
<polygon points="239.40,344.00 248.60,336.60 248.60,474.40 239.40,481.80" fill="none" stroke="#111" stroke-width="1.2" stroke-linejoin="round"/>
<g transform="translate(283.50,476.00)">
<rect x="-1.80" y="1.90" width="27.70" height="3.90" fill="url(#pBlk)"/>
<polygon points="25.90,1.90 35.10,-5.50 35.10,-1.60 25.90,5.80" fill="url(#pBlkS)"/>
</g>
<g transform="translate(283.50,473.00)">
<rect x="-1.80" y="-2.40" width="27.70" height="7.30" fill="url(#pDot)"/>
<polygon points="25.90,-2.40 35.10,-9.80 35.10,-2.50 25.90,4.90" fill="url(#pDotS)"/>
</g>
<g transform="translate(0.00,0.00)">
<rect x="281.70" y="429.80" width="27.70" height="40.80" fill="url(#pGray2)"/>
<polygon points="309.40,429.80 318.60,422.40 318.60,463.20 309.40,470.60" fill="url(#pGrayS)"/>
</g>
<g transform="translate(0.00,0.00)">
<rect x="281.70" y="344.00" width="27.70" height="85.80" fill="#ffffff"/>
<polygon points="309.40,344.00 318.60,336.60 318.60,422.40 309.40,429.80" fill="#ababab"/>
</g>
<line x1="281.70" y1="477.90" x2="309.40" y2="477.90" stroke="#111" stroke-width="0.7"/>
<line x1="309.40" y1="477.90" x2="318.60" y2="470.50" stroke="#111" stroke-width="1.25"/>
<line x1="281.70" y1="470.60" x2="309.40" y2="470.60" stroke="#111" stroke-width="0.7"/>
<line x1="309.40" y1="470.60" x2="318.60" y2="463.20" stroke="#111" stroke-width="1.25"/>
<line x1="281.70" y1="429.80" x2="309.40" y2="429.80" stroke="#111" stroke-width="0.8" stroke-dasharray="1.3 0.7"/>
<line x1="309.40" y1="429.80" x2="318.60" y2="422.40" stroke="#111" stroke-width="1.25"/>
<polygon points="281.70,344.00 290.90,336.60 318.60,336.60 309.40,344.00" fill="#bdbdbd" stroke="#111" stroke-width="1.2" stroke-linejoin="round"/>
<rect x="281.70" y="344.00" width="27.70" height="137.80" fill="none" stroke="#111" stroke-width="1.5"/>
<line x1="281.05" y1="481.55" x2="310.05" y2="481.55" stroke="#111" stroke-width="1.9"/>
<polygon points="309.40,344.00 318.60,336.60 318.60,474.40 309.40,481.80" fill="none" stroke="#111" stroke-width="1.2" stroke-linejoin="round"/>
<g transform="translate(353.50,476.00)">
<rect x="-1.80" y="1.90" width="27.70" height="3.90" fill="url(#pBlk)"/>
<polygon points="25.90,1.90 35.10,-5.50 35.10,-1.60 25.90,5.80" fill="url(#pBlkS)"/>
</g>
<g transform="translate(351.50,451.00)">
<rect x="0.20" y="-0.10" width="27.70" height="27.00" fill="url(#pDash)"/>
<polygon points="27.90,-0.10 37.10,-7.50 37.10,19.50 27.90,26.90" fill="url(#pDashS)"/>
</g>
<g transform="translate(0.00,0.00)">
<rect x="351.70" y="438.20" width="27.70" height="12.70" fill="url(#pHatch)"/>
<polygon points="379.40,438.20 388.60,430.80 388.60,443.50 379.40,450.90" fill="url(#pHatchS)"/>
</g>
<g transform="translate(0.00,0.00)">
<rect x="351.70" y="344.00" width="27.70" height="94.20" fill="#ffffff"/>
<polygon points="379.40,344.00 388.60,336.60 388.60,430.80 379.40,438.20" fill="#ababab"/>
</g>
<line x1="351.70" y1="477.90" x2="379.40" y2="477.90" stroke="#111" stroke-width="0.7"/>
<line x1="379.40" y1="477.90" x2="388.60" y2="470.50" stroke="#111" stroke-width="1.25"/>
<line x1="351.70" y1="450.90" x2="379.40" y2="450.90" stroke="#111" stroke-width="0.7"/>
<line x1="379.40" y1="450.90" x2="388.60" y2="443.50" stroke="#111" stroke-width="1.25"/>
<line x1="351.70" y1="438.20" x2="379.40" y2="438.20" stroke="#111" stroke-width="0.8" stroke-dasharray="1.3 0.7"/>
<line x1="379.40" y1="438.20" x2="388.60" y2="430.80" stroke="#111" stroke-width="1.25"/>
<polygon points="351.70,344.00 360.90,336.60 388.60,336.60 379.40,344.00" fill="#bdbdbd" stroke="#111" stroke-width="1.2" stroke-linejoin="round"/>
<rect x="351.70" y="344.00" width="27.70" height="137.80" fill="none" stroke="#111" stroke-width="1.5"/>
<line x1="351.05" y1="481.55" x2="380.05" y2="481.55" stroke="#111" stroke-width="1.9"/>
<polygon points="379.40,344.00 388.60,336.60 388.60,474.40 379.40,481.80" fill="none" stroke="#111" stroke-width="1.2" stroke-linejoin="round"/>
<g transform="translate(423.50,476.00)">
<rect x="-1.80" y="1.90" width="27.70" height="3.90" fill="url(#pBlk)"/>
<polygon points="25.90,1.90 35.10,-5.50 35.10,-1.60 25.90,5.80" fill="url(#pBlkS)"/>
</g>
<g transform="translate(423.50,465.00)">
<rect x="-1.80" y="-0.20" width="27.70" height="13.10" fill="url(#pDot)"/>
<polygon points="25.90,-0.20 35.10,-7.60 35.10,5.50 25.90,12.90" fill="url(#pDotS)"/>
</g>
<g transform="translate(0.00,0.00)">
<rect x="421.70" y="440.00" width="27.70" height="24.80" fill="url(#pHatch)"/>
<polygon points="449.40,440.00 458.60,432.60 458.60,457.40 449.40,464.80" fill="url(#pHatchS)"/>
</g>
<g transform="translate(0.00,0.00)">
<rect x="421.70" y="344.00" width="27.70" height="96.00" fill="#ffffff"/>
<polygon points="449.40,344.00 458.60,336.60 458.60,432.60 449.40,440.00" fill="#ababab"/>
</g>
<line x1="421.70" y1="477.90" x2="449.40" y2="477.90" stroke="#111" stroke-width="0.7"/>
<line x1="449.40" y1="477.90" x2="458.60" y2="470.50" stroke="#111" stroke-width="1.25"/>
<line x1="421.70" y1="464.80" x2="449.40" y2="464.80" stroke="#111" stroke-width="0.7"/>
<line x1="449.40" y1="464.80" x2="458.60" y2="457.40" stroke="#111" stroke-width="1.25"/>
<line x1="421.70" y1="440.00" x2="449.40" y2="440.00" stroke="#111" stroke-width="0.8" stroke-dasharray="1.3 0.7"/>
<line x1="449.40" y1="440.00" x2="458.60" y2="432.60" stroke="#111" stroke-width="1.25"/>
<polygon points="421.70,344.00 430.90,336.60 458.60,336.60 449.40,344.00" fill="#bdbdbd" stroke="#111" stroke-width="1.2" stroke-linejoin="round"/>
<rect x="421.70" y="344.00" width="27.70" height="137.80" fill="none" stroke="#111" stroke-width="1.5"/>
<line x1="421.05" y1="481.55" x2="450.05" y2="481.55" stroke="#111" stroke-width="1.9"/>
<polygon points="449.40,344.00 458.60,336.60 458.60,474.40 449.40,481.80" fill="none" stroke="#111" stroke-width="1.2" stroke-linejoin="round"/>
<line x1="42.80" y1="348.50" x2="42.80" y2="541.50" stroke="#111" stroke-width="1.5"/>
<line x1="39.00" y1="349.10" x2="42.80" y2="349.10" stroke="#111" stroke-width="1.2"/>
<line x1="39.00" y1="376.74" x2="42.80" y2="376.74" stroke="#111" stroke-width="1.2"/>
<line x1="39.00" y1="404.38" x2="42.80" y2="404.38" stroke="#111" stroke-width="1.2"/>
<line x1="39.00" y1="432.02" x2="42.80" y2="432.02" stroke="#111" stroke-width="1.2"/>
<line x1="39.00" y1="459.66" x2="42.80" y2="459.66" stroke="#111" stroke-width="1.2"/>
<line x1="39.00" y1="487.65" x2="464.10" y2="487.65" stroke="#111" stroke-width="1.3"/>
<line x1="253.40" y1="487.65" x2="253.40" y2="541.50" stroke="#111" stroke-width="1.1"/>
<line x1="464.10" y1="487.05" x2="464.10" y2="541.50" stroke="#111" stroke-width="1.1"/>
<text x="4.74" y="353.70" font-size="11.7" textLength="26.26" lengthAdjust="spacingAndGlyphs">100%</text>
<text x="10.37" y="381.34" font-size="11.7" textLength="20.63" lengthAdjust="spacingAndGlyphs">80%</text>
<text x="10.37" y="408.98" font-size="11.7" textLength="20.63" lengthAdjust="spacingAndGlyphs">60%</text>
<text x="10.37" y="436.62" font-size="11.7" textLength="20.63" lengthAdjust="spacingAndGlyphs">40%</text>
<text x="10.37" y="464.26" font-size="11.7" textLength="20.63" lengthAdjust="spacingAndGlyphs">20%</text>
<text x="16.00" y="491.90" font-size="11.7" textLength="15.00" lengthAdjust="spacingAndGlyphs">0%</text>
<text x="59.20" y="509.50" font-size="13.2" textLength="37.70" lengthAdjust="spacingAndGlyphs">15 min</text>
<text x="129.25" y="509.50" font-size="13.2" textLength="37.50" lengthAdjust="spacingAndGlyphs">30 min</text>
<text x="198.00" y="509.50" font-size="13.2" textLength="37.50" lengthAdjust="spacingAndGlyphs">45 min</text>
<text x="269.20" y="509.50" font-size="13.2" textLength="38.00" lengthAdjust="spacingAndGlyphs">15 min</text>
<text x="339.25" y="509.50" font-size="13.2" textLength="37.50" lengthAdjust="spacingAndGlyphs">30 min</text>
<text x="408.00" y="509.50" font-size="13.2" textLength="37.60" lengthAdjust="spacingAndGlyphs">45 min</text>
<text x="99.25" y="536.45" font-size="13.2" textLength="95.00" lengthAdjust="spacingAndGlyphs">Uncontrolled pH</text>
<text x="340.75" y="536.45" font-size="13.2" textLength="32.50" lengthAdjust="spacingAndGlyphs">pH 10</text>
<text x="239.90" y="303.80" font-size="19.7" textLength="21.2" lengthAdjust="spacingAndGlyphs">E3</text>
</svg></body></html>
